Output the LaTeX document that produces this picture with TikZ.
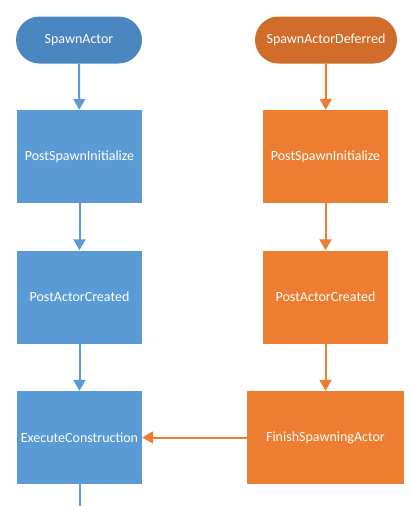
\documentclass[tikz,border=0pt]{standalone}
\usepackage{fontspec}
\setmainfont{Carlito}
\usetikzlibrary{arrows.meta,shapes.misc}

\definecolor{bluebox}{HTML}{5B9BD5}
\definecolor{blueterm}{HTML}{4A86BF}
\definecolor{orangebox}{HTML}{ED7D31}
\definecolor{orangeterm}{HTML}{D16C2A}

\begin{document}
\begin{tikzpicture}[x=1pt,y=-1pt,
    term/.style={rounded rectangle,minimum width=126pt,minimum height=47pt,
        text=white,font=\fontsize{14}{16}\selectfont,inner sep=0pt},
    procbox/.style={rectangle,minimum width=125pt,minimum height=93pt,
        text=white,font=\fontsize{14}{16}\selectfont,inner sep=0pt},
    flow/.style={line width=2pt,-{Triangle[width=12pt,length=11pt]}}]
    \useasboundingbox (0,0) rectangle (411,506);

    % Left column
    \node[term,fill=blueterm] (spawn) at (79,40) {SpawnActor};
    \node[procbox,fill=bluebox] (initL) at (79.5,156.5) {PostSpawnInitialize};
    \node[procbox,fill=bluebox] (createdL) at (79.5,297) {PostActorCreated};
    \node[procbox,fill=bluebox] (construct) at (79.5,437.5) {ExecuteConstruction};
    \coordinate (out) at (79.5,506);

    % Right column
    \node[term,fill=orangeterm,minimum width=142pt] (deferred) at (326,40) {SpawnActorDeferred};
    \node[procbox,fill=orangebox] (initR) at (325.5,156.5) {PostSpawnInitialize};
    \node[procbox,fill=orangebox] (createdR) at (325.5,297) {PostActorCreated};
    \node[procbox,fill=orangebox,minimum width=157pt] (finish) at (325.5,437.5) {FinishSpawningActor};

    % Arrows
    \draw[flow,bluebox] (spawn) -- (initL);
    \draw[flow,bluebox] (initL) -- (createdL);
    \draw[flow,bluebox] (createdL) -- (construct);
    \draw[line width=2pt,bluebox] (construct) -- (out);
    \draw[flow,orangebox] (deferred) -- (initR);
    \draw[flow,orangebox] (initR) -- (createdR);
    \draw[flow,orangebox] (createdR) -- (finish);
    \draw[flow,orangebox] (finish) -- (construct);
\end{tikzpicture}
\end{document}
